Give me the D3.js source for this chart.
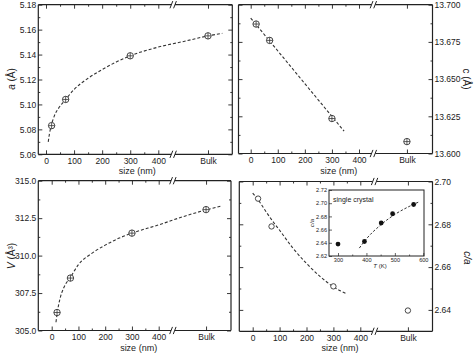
<!DOCTYPE html>
<html><head><meta charset="utf-8">
<script src="https://cdn.jsdelivr.net/npm/d3@7"></script>
<style>
body{margin:0;background:#fff}
svg{display:block}
text{font-family:"Liberation Sans",Arial,Helvetica,sans-serif;fill:#222}
</style>
</head><body><svg id="c" width="474" height="355"></svg>
<script>
// ---------- data ----------
const BULK = 577;                         // position used for the "Bulk" category
const sizeNm = [20, 70, 300, BULK];
const aVals  = [5.083, 5.104, 5.139, 5.155];
const cVals  = [13.687, 13.676, 13.6235, 13.608];
const vVals  = [306.2, 308.5, 311.5, 313.07];
const caVals = [2.692, 2.679, 2.651, 2.6397];

const aFitX  = [8, 12, 20, 30, 45, 70, 100, 150, 200, 250, 300, 400, 500, 577, 628];
const aFitY  = [5.070, 5.076, 5.084, 5.091, 5.097, 5.104, 5.112, 5.121, 5.128, 5.134, 5.139, 5.146, 5.151, 5.155, 5.157];
const cFitX  = [0, 345];
const cFitY  = [13.691, 13.615];
const vFitX  = [16, 20, 30, 45, 70, 100, 150, 200, 250, 300, 400, 500, 577, 632];
const vFitY  = [305.55, 306.1, 307.05, 307.85, 308.55, 309.4, 310.15, 310.7, 311.15, 311.5, 312.05, 312.65, 313.05, 313.3];
const caFitX = [0, 20, 50, 70, 100, 150, 200, 250, 300, 350];
const caFitY = [2.6946, 2.6915, 2.6858, 2.6822, 2.6772, 2.6688, 2.6617, 2.6557, 2.6508, 2.6475];

const insetT     = [300, 393, 452, 492, 566];
const insetCa    = [2.638, 2.642, 2.670, 2.684, 2.698];
const insetFitT  = [375, 400, 450, 500, 550, 585];
const insetFitCa = [2.632, 2.646, 2.667, 2.683, 2.695, 2.702];

const sizeTicks = [0, 100, 200, 300, 400];
const sizeMinor = [50, 150, 250, 350];
const bulkLabel = "Bulk";
const BREAK = 453;

const aTicks  = [5.06, 5.08, 5.10, 5.12, 5.14, 5.16, 5.18];
const aMinor  = [5.07, 5.09, 5.11, 5.13, 5.15, 5.17];
const cTicks  = [13.600, 13.625, 13.650, 13.675, 13.700];
const cMinor  = [13.6125, 13.6375, 13.6625, 13.6875];
const vTicks  = [305.0, 307.5, 310.0, 312.5, 315.0];
const vMinor  = [306.25, 308.75, 311.25, 313.75];
const caTicks = [2.64, 2.66, 2.68, 2.70];
const caMinor = [2.65, 2.67, 2.69];

const insetYTicks = [2.62, 2.64, 2.66, 2.68, 2.70, 2.72];
const insetXTicks = [300, 400, 500, 600];
const insetXMinor = [350, 450, 550];

// ---------- drawing ----------
const svg = d3.select("#c");
const INK = "#222";
const FONT = "8.5px";

function styleAxis(g, fs) {
  g.select(".domain").remove();
  g.selectAll("line").attr("stroke", INK).attr("stroke-width", 0.9);
  g.selectAll("text").attr("font-size", fs || FONT).attr("fill", INK)
    .attr("font-family", '"Liberation Sans",Arial,sans-serif');
}

function panel(cfg) {
  const g = svg.append("g");
  const x = d3.scaleLinear().domain([0, 400]).range([cfg.x0, cfg.x400]);
  const y = d3.scaleLinear().domain(cfg.yDom).range([cfg.bottom, cfg.top]);
  const majX = sizeTicks.concat([BULK]);

  // bottom axis
  styleAxis(g.append("g").attr("transform", `translate(0,${cfg.bottom})`)
    .call(d3.axisBottom(x).tickValues(majX).tickSize(-4).tickPadding(3.5)
      .tickFormat(d => d === BULK ? bulkLabel : d3.format("d")(d))));
  styleAxis(g.append("g").attr("transform", `translate(0,${cfg.bottom})`)
    .call(d3.axisBottom(x).tickValues(sizeMinor).tickSize(-2).tickFormat("")));
  // top axis
  styleAxis(g.append("g").attr("transform", `translate(0,${cfg.top})`)
    .call(d3.axisTop(x).tickValues(majX).tickSize(-4).tickFormat("")));
  styleAxis(g.append("g").attr("transform", `translate(0,${cfg.top})`)
    .call(d3.axisTop(x).tickValues(sizeMinor).tickSize(-2).tickFormat("")));

  // left / right axes
  const fmt = d3.format(cfg.yFmt);
  styleAxis(g.append("g").attr("transform", `translate(${cfg.left},0)`)
    .call(d3.axisLeft(y).tickValues(cfg.yTicks).tickSize(-4).tickPadding(2)
      .tickFormat(cfg.labelSide === "left" ? fmt : "")));
  styleAxis(g.append("g").attr("transform", `translate(${cfg.left},0)`)
    .call(d3.axisLeft(y).tickValues(cfg.yMinor).tickSize(-2).tickFormat("")));
  styleAxis(g.append("g").attr("transform", `translate(${cfg.right},0)`)
    .call(d3.axisRight(y).tickValues(cfg.yTicks).tickSize(-4).tickPadding(2)
      .tickFormat(cfg.labelSide === "right" ? fmt : "")));
  styleAxis(g.append("g").attr("transform", `translate(${cfg.right},0)`)
    .call(d3.axisRight(y).tickValues(cfg.yMinor).tickSize(-2).tickFormat("")));

  // frame with axis break
  const bx = x(BREAK), gap = 1.8;
  const fr = g.append("g").attr("stroke", INK).attr("stroke-width", 1.2).attr("fill", "none");
  fr.append("line").attr("x1", cfg.left).attr("x2", cfg.left).attr("y1", cfg.top).attr("y2", cfg.bottom);
  fr.append("line").attr("x1", cfg.right).attr("x2", cfg.right).attr("y1", cfg.top).attr("y2", cfg.bottom);
  [cfg.top, cfg.bottom].forEach(yy => {
    fr.append("line").attr("x1", cfg.left).attr("x2", bx - gap).attr("y1", yy).attr("y2", yy);
    fr.append("line").attr("x1", bx + gap).attr("x2", cfg.right).attr("y1", yy).attr("y2", yy);
    fr.append("rect").attr("x", bx - gap).attr("y", yy - 2).attr("width", 2 * gap).attr("height", 4)
      .attr("fill", "#fff").attr("stroke", "none");
    [bx - gap, bx + gap].forEach(cx => {
      fr.append("line").attr("x1", cx - 1.4).attr("y1", yy + 3.6).attr("x2", cx + 1.4).attr("y2", yy - 3.6)
        .attr("stroke-width", 1);
    });
  });

  // fit curve
  const fit = cfg.fitX.map((v, i) => [v, cfg.fitY[i]]);
  g.append("path").datum(fit)
    .attr("d", d3.line().x(d => x(d[0])).y(d => y(d[1])).curve(d3.curveMonotoneX))
    .attr("fill", "none").attr("stroke", "#333").attr("stroke-width", 1.1)
    .attr("stroke-dasharray", "3,2");

  // points
  const pts = sizeNm.map((v, i) => [v, cfg.vals[i]]);
  const m = g.append("g").selectAll("g").data(pts).join("g")
    .attr("transform", d => `translate(${x(d[0])},${y(d[1])})`);
  m.append("circle").attr("r", cfg.cross ? 3.2 : 2.7).attr("fill", "#fff")
    .attr("stroke", "#333").attr("stroke-width", 0.9);
  if (cfg.cross) {
    m.append("line").attr("x1", -3.2).attr("x2", 3.2).attr("stroke", "#333").attr("stroke-width", 0.8);
    m.append("line").attr("y1", -3.2).attr("y2", 3.2).attr("stroke", "#333").attr("stroke-width", 0.8);
  }

  // x title
  g.append("text").attr("x", x(325)).attr("y", cfg.bottom + 17).attr("dy", "0.35em")
    .attr("text-anchor", "middle").attr("font-size", "9px").text("size (nm)");

  // y title
  const t = g.append("text").attr("text-anchor", "middle").attr("font-size", "10px").attr("dy", "0.35em")
    .attr("transform", `translate(${cfg.titleX},${cfg.titleY}) rotate(${cfg.labelSide === "left" ? -90 : 90})`);
  cfg.title.forEach(p => t.append("tspan").attr("font-style", p[1] ? "italic" : "normal").text(p[0]));
  return {x, y};
}

panel({left: 38.3, right: 232.3, top: 4.7, bottom: 154.3, x0: 46, x400: 158.3,
  yDom: [5.06, 5.18], yTicks: aTicks, yMinor: aMinor, yFmt: ".2f", labelSide: "left",
  vals: aVals, fitX: aFitX, fitY: aFitY, cross: true,
  title: [["a", true], [" (Å)", false]], titleX: 11, titleY: 79});

panel({left: 238.5, right: 432.5, top: 4.7, bottom: 153.5, x0: 250.7, x400: 359,
  yDom: [13.600, 13.700], yTicks: cTicks, yMinor: cMinor, yFmt: ".3f", labelSide: "right",
  vals: cVals, fitX: cFitX, fitY: cFitY, cross: true,
  title: [["c (Å)", false]], titleX: 466, titleY: 79});

panel({left: 38.3, right: 231, top: 180.7, bottom: 330.5, x0: 51.7, x400: 158.7,
  yDom: [305, 315], yTicks: vTicks, yMinor: vMinor, yFmt: ".1f", labelSide: "left",
  vals: vVals, fitX: vFitX, fitY: vFitY, cross: true,
  title: [["V", true], [" (Å³)", false]], titleX: 11, titleY: 256});

panel({left: 239.3, right: 432.5, top: 181.5, bottom: 331.3, x0: 252.7, x400: 360.3,
  yDom: [2.63, 2.70], yTicks: caTicks, yMinor: caMinor, yFmt: ".2f", labelSide: "right",
  vals: caVals, fitX: caFitX, fitY: caFitY, cross: false,
  title: [["c/a", true]], titleX: 467, titleY: 258});

// ---------- inset ----------
(function inset() {
  const L = 329, R = 424, T = 190, B = 256;
  const g = svg.append("g");
  g.append("rect").attr("x", L).attr("y", T).attr("width", R - L).attr("height", B - T)
    .attr("fill", "#fff").attr("stroke", INK).attr("stroke-width", 1);
  const x = d3.scaleLinear().domain([300, 600]).range([338, 423.3]);
  const y = d3.scaleLinear().domain([2.62, 2.72]).range([B, T]);
  const fs = "5.6px";
  styleAxis(g.append("g").attr("transform", `translate(0,${B})`)
    .call(d3.axisBottom(x).tickValues(insetXTicks).tickSize(-3).tickPadding(2).tickFormat(d3.format("d"))), fs);
  styleAxis(g.append("g").attr("transform", `translate(0,${B})`)
    .call(d3.axisBottom(x).tickValues(insetXMinor).tickSize(-1.5).tickFormat("")), fs);
  styleAxis(g.append("g").attr("transform", `translate(${L},0)`)
    .call(d3.axisLeft(y).tickValues(insetYTicks).tickSize(-3).tickPadding(2).tickFormat(d3.format(".2f"))), fs);
  g.selectAll("line").attr("stroke-width", 0.7);

  const fit = insetFitT.map((v, i) => [v, insetFitCa[i]]);
  g.append("path").datum(fit)
    .attr("d", d3.line().x(d => x(d[0])).y(d => y(d[1])).curve(d3.curveMonotoneX))
    .attr("fill", "none").attr("stroke", "#333").attr("stroke-width", 1)
    .attr("stroke-dasharray", "2.5,1.8");
  g.append("g").selectAll("circle").data(insetT.map((v, i) => [v, insetCa[i]])).join("circle")
    .attr("cx", d => x(d[0])).attr("cy", d => y(d[1])).attr("r", 2.4).attr("fill", "#111");

  g.append("text").attr("x", 333).attr("y", 200).attr("dy", "0.35em")
    .attr("font-size", "7px").text("single crystal");
  const tx = g.append("text").attr("x", 380).attr("y", 266).attr("dy", "0.35em")
    .attr("text-anchor", "middle").attr("font-size", "6px");
  tx.append("tspan").attr("font-style", "italic").text("T");
  tx.append("tspan").text(" (K)");
  g.append("text").attr("transform", "translate(312,223) rotate(-90)").attr("dy", "0.35em")
    .attr("text-anchor", "middle").attr("font-size", "6.2px").attr("font-style", "italic").text("c/a");
})();
</script>
</body></html>
